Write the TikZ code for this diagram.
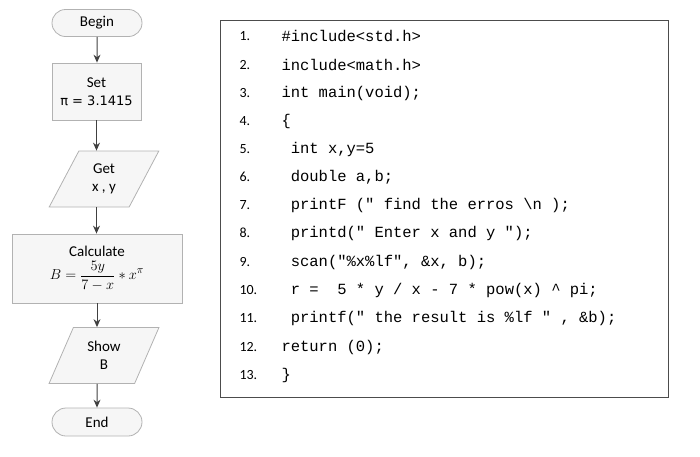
\documentclass[tikz,border=0pt]{standalone}
\usepackage{fontspec}
\usepackage{amsmath}
\setmainfont{Carlito}
\newfontfamily\codef{Liberation Mono}
\usetikzlibrary{shapes.geometric,shapes.misc,arrows.meta}
\begin{document}
\begin{tikzpicture}[x=1pt,y=-1pt,
 fc/.style={draw=gray!60,fill=gray!7,line width=0.8pt,align=center,font=\fontsize{15}{18}\selectfont,inner sep=0pt},
 term/.style={fc,rounded rectangle,minimum width=90,minimum height=27},
 proc/.style={fc,rectangle,minimum width=89,minimum height=57},
 io/.style={fc,trapezium,trapezium left angle=65,trapezium right angle=115,minimum width=110,minimum height=56,trapezium stretches},
 arr/.style={-{Stealth[length=8pt,width=7pt]},draw=black!75,line width=1pt},
 num/.style={anchor=west,font=\fontsize{14}{16}\selectfont},
 cd/.style={anchor=west,font=\codef\fontsize{15.5}{18}\selectfont}]
\useasboundingbox (0,0) rectangle (700,456);
\node[term] (b) at (97,23) {Begin};
\node[proc] (s) at (96.5,91.5) {Set\\ \fontspec{DejaVu Sans}\fontsize{13}{18}\selectfont π = 3.1415};
\node[io] (g) at (104,179) {Get\\x , y};
\node[proc,minimum width=170,minimum height=69] (c) at (97,268.5) {Calculate\\[3pt] \fontsize{15}{17}\selectfont$\displaystyle B=\frac{5y}{7-x}*x^{\pi}$};
\node[io] (sh) at (104,355.5) {Show\\B};
\node[term,minimum height=28] (e) at (97,422) {End};
\draw[arr] (b) -- (b|-s.north);
\draw[arr] (s) -- (s|-g.north);
\draw[arr] (s.south|-g.south) -- (s.south|-c.north);
\draw[arr] (c) -- (c|-sh.north);
\draw[arr] (c.south|-sh.south) -- (e);
\node[draw=black!70,line width=0.8pt,minimum width=448,minimum height=377,inner sep=0pt] (box) at (444,208.5) {};
\foreach \i/\y/\t in {
1/36/{\#include<std.h>},
2/65/{include<math.h>},
3/93/{int main(void);},
4/121/{\{},
5/149/{\ int x,y=5},
6/177/{\ double a,b;},
7/205/{\ printF (" find the erros \textbackslash n );},
8/233/{\ printd(" Enter x and y ");},
9/262/{\ scan("\%x\%lf", \&x, b);},
10/290/{\ r = \ 5 * y / x - 7 * pow(x) \textasciicircum\ pi;},
11/318/{\ printf(" the result is \%lf " , \&b);},
12/347/{return (0);},
13/375/{\}}}{
 \node[num] (n\i) at (236,\y) {\i.};
 \node[cd] (l\i) at (278,\y) {\t};
}
\end{tikzpicture}
\end{document}
